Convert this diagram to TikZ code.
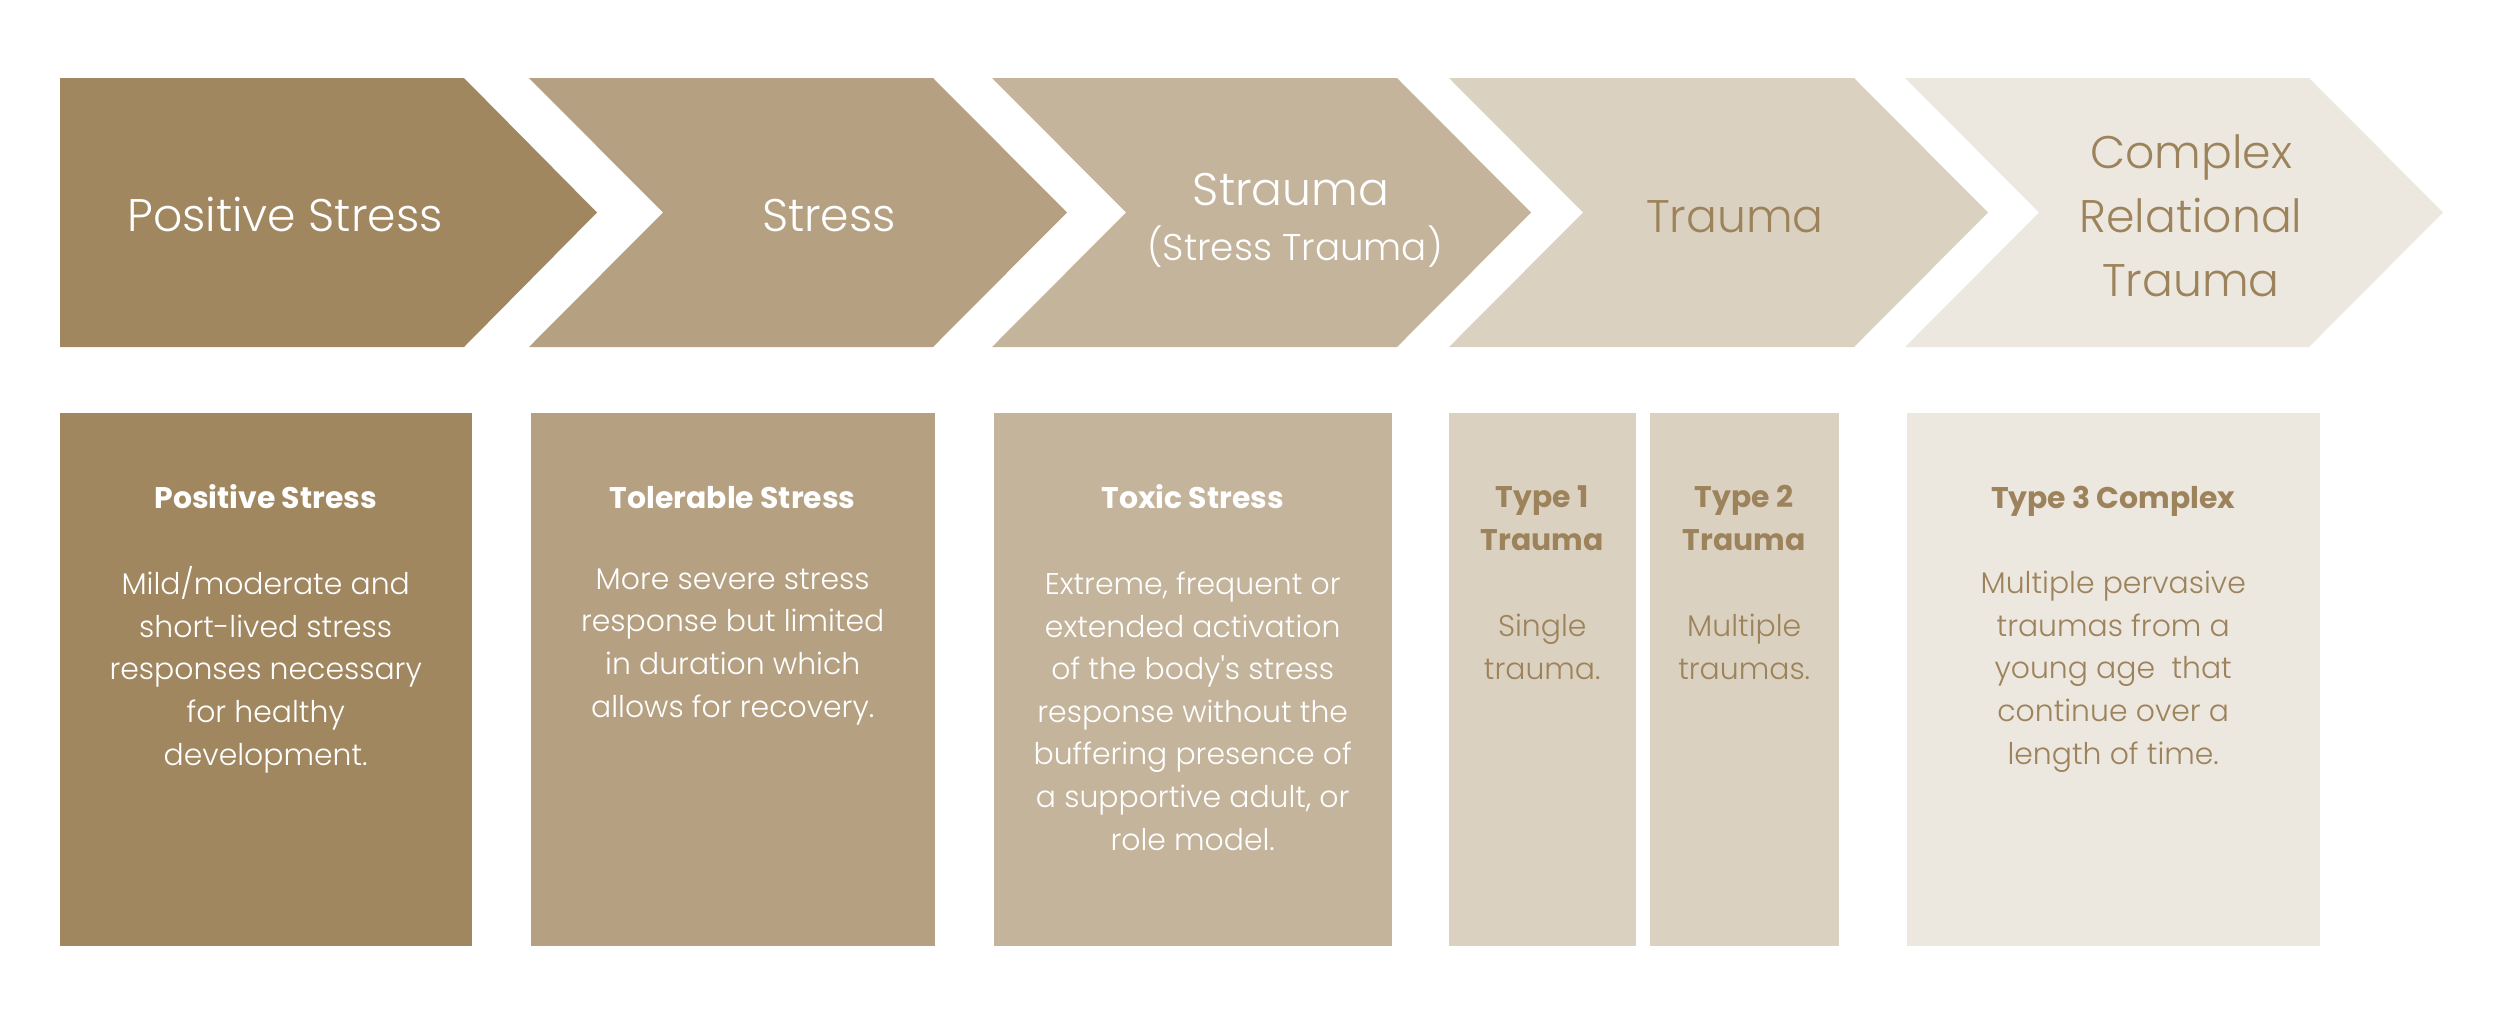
\documentclass[tikz,border=0pt]{standalone}
\usepackage{fontspec}
\setmainfont{Poppins}
\newfontfamily\lightfont{Poppins Light}
\usepackage{tikz}
\usetikzlibrary{positioning, calc}
\definecolor{tanA}{RGB}{160,135,96}
\definecolor{tanB}{RGB}{181,161,130}
\definecolor{tanC}{RGB}{196,180,155}
\definecolor{tanD}{RGB}{219,209,192}
\definecolor{tanE}{RGB}{236,231,223}
\definecolor{tantext}{RGB}{157,131,91}

\begin{document}
\begin{tikzpicture}[
  chevlab/.style={anchor=base, align=center, font=\lightfont\fontsize{13}{18.2}\selectfont},
  card/.style={anchor=north west, inner sep=0pt, minimum height=5.33cm},
  head/.style={anchor=base, align=center, font=\bfseries\fontsize{8.5}{12.1}\selectfont},
  desc/.style={anchor=base, align=center, font=\lightfont\fontsize{8.5}{12.1}\selectfont}]

\useasboundingbox (0,0) rectangle (25,-10.27);

% Top row of chevrons
\fill[tanA] (0.60,-0.78) -- (4.64,-0.78) -- (5.97,-2.125) -- (4.64,-3.47) -- (0.60,-3.47) -- cycle;
\foreach \l/\r/\c in {5.29/9.33/tanB, 9.92/13.97/tanC, 14.49/18.54/tanD, 19.05/23.09/tanE}
  \fill[\c] (\l,-0.78) -- (\r,-0.78) -- ++(1.34,-1.345) -- (\r,-3.47) -- (\l,-3.47) -- ++(1.34,1.345) -- cycle;

% labels (base anchor sits on the last line)
\node[chevlab, text=white] (lab1) at (2.85,-2.31) {Positive Stress};
\node[chevlab, text=white] (lab2) at (8.29,-2.31) {Stress};
\node[chevlab, text=white] (lab3) at (12.91,-2.05) {Strauma};
\node[chevlab, text=white, font=\lightfont\fontsize{10.6}{12}\selectfont, below=0.55cm of lab3.base, anchor=base, xshift=0.04cm] (lab3b) {(Stress Trauma)};
\node[chevlab, text=tantext] (lab4) at (17.35,-2.32) {Trauma};
\node[chevlab, text=tantext] (lab5) at (21.91,-2.96) {Complex\\Relational\\Trauma};

% Bottom row of cards
\node[card, fill=tanA, minimum width=4.12cm] (card1) at (0.59,-4.12) {};
\node[card, fill=tanB, minimum width=4.04cm] (card2) at (5.30,-4.12) {};
\node[card, fill=tanC, minimum width=3.98cm] (card3) at (9.93,-4.12) {};
\node[card, fill=tanD, minimum width=1.87cm] (card4) at (14.48,-4.12) {};
\node[card, fill=tanD, minimum width=1.89cm] (card5) at (16.49,-4.12) {};
\node[card, fill=tanE, minimum width=4.13cm] (card6) at (19.06,-4.12) {};

\node[head, text=white] (head1) at ($(card1.north)+(0,-0.96)$) {Positive Stress};
\node[desc, text=white, below=2.57cm of head1.base, anchor=base] (desc1) {Mild/moderate and\\short-lived stress\\responses necessary\\for healthy\\development.};

\node[head, text=white] (head2) at ($(card2.north)+(0,-0.96)$) {Tolerable Stress};
\node[desc, text=white, below=2.09cm of head2.base, anchor=base] (desc2) {More severe stress\\response but limited\\in duration which\\allows for recovery.};

\node[head, text=white] (head3) at ($(card3.north)+(0,-0.96)$) {Toxic Stress};
\node[desc, text=white, below=3.42cm of head3.base, anchor=base] (desc3) {Extreme, frequent or\\extended activation\\of the body's stress\\response without the\\buffering presence of\\a supportive adult, or\\role model.};

\node[head, text=tantext] (head4) at ($(card4.north)+(0,-1.38)$) {Type 1\\Trauma};
\node[desc, text=tantext, below=1.29cm of head4.base, anchor=base] (desc4) {Single\\trauma.};

\node[head, text=tantext] (head5) at ($(card5.north)+(0,-1.38)$) {Type 2\\Trauma};
\node[desc, text=tantext, below=1.29cm of head5.base, anchor=base] (desc5) {Multiple\\traumas.};

\node[head, text=tantext] (head6) at ($(card6.north)+(0,-0.96)$) {Type 3 Complex};
\node[desc, text=tantext, below=2.56cm of head6.base, anchor=base] (desc6) {Multiple pervasive\\traumas from a\\young age\ \ that\\continue over a\\length of time.};

\end{tikzpicture}
\end{document}
